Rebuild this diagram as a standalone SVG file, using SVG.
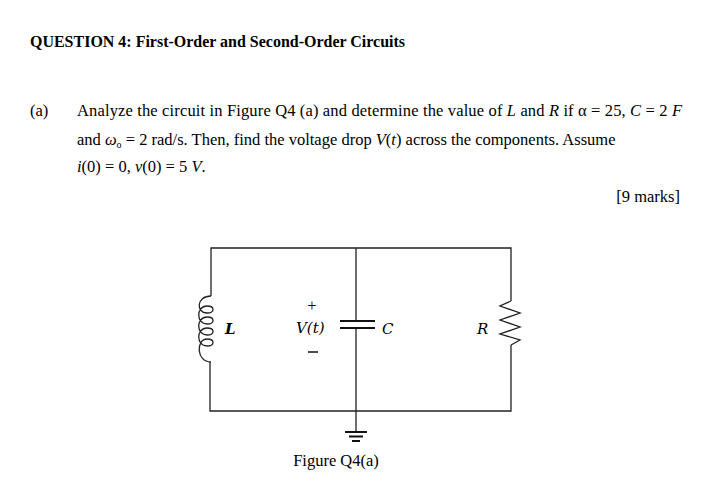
<svg xmlns="http://www.w3.org/2000/svg" width="720" height="493" viewBox="0 0 720 493">
<style>
text{font-family:"Liberation Serif",serif;font-size:16.5px;fill:#000}
.w{stroke:#222;stroke-width:1.3;fill:none}
.m{font-family:"DejaVu Serif","Liberation Serif",serif;font-style:italic;font-size:15px}
</style>
<rect width="720" height="493" fill="#fff"/>
<text x="30" y="47" font-weight="bold" font-size="16" textLength="375" lengthAdjust="spacingAndGlyphs">QUESTION 4: First-Order and Second-Order Circuits</text>
<text x="30" y="116">(a)</text>
<text x="77" y="116" textLength="605">Analyze the circuit in Figure Q4 (a) and determine the value of <tspan font-style="italic">L</tspan> and <tspan font-style="italic">R</tspan> if  α = 25, <tspan font-style="italic">C</tspan> = 2 <tspan font-style="italic">F</tspan></text>
<text x="77" y="145">and <tspan font-style="italic">ω</tspan><tspan font-size="10" dy="3">o</tspan><tspan dy="-3"> = 2 rad/s. Then, find the voltage drop </tspan><tspan font-style="italic">V</tspan>(<tspan font-style="italic">t</tspan>) across the components. Assume</text>
<text x="77" y="172"><tspan font-style="italic">i</tspan>(0) = 0, <tspan font-style="italic">v</tspan>(0) = 5 <tspan font-style="italic">V</tspan>.</text>
<text x="680" y="202" text-anchor="end">[9 marks]</text>
<g id="connectors">
<path class="w" d="M211,296 V248 H511 V301 M511,345 V411 H210 V362 M356,248 V321 M356,328 V432"/>
</g>
<g id="inductor">
<path class="w" d="M211,296 C196,296 196,313 207,313 C215,313 215,306 207,306 C196,306 196,324 207,324 C215,324 215,317 207,317 C196,317 196,335 207,335 C215,335 215,328 207,328 C196,328 196,346 207,346 C215,346 215,339 207,339 C196,339 196,362 211,362"/>
<text class="m" x="225" y="334" font-weight="bold">L</text>
</g>
<g id="capacitor">
<path stroke="#111" stroke-width="2.2" d="M340,321 H375 M340,328 H375"/>
<text x="312" y="311" font-family="DejaVu Sans" font-size="12" text-anchor="middle">+</text>
<text class="m" x="296" y="333" font-style="normal"><tspan font-style="italic">V</tspan>(<tspan font-style="italic">t</tspan>)</text>
<path stroke="#111" stroke-width="1.5" d="M308,352 H318"/>
<text class="m" x="382" y="334">C</text>
</g>
<g id="resistor">
<path class="w" d="M511,301 L500,306 L520,313 L500,320 L520,327 L500,334 L520,340 L511,345"/>
<text class="m" x="477" y="334">R</text>
</g>
<g id="ground">
<path stroke="#111" d="M345,432 H367 M349,436.5 H363 M352,441 H360" stroke-width="2"/>
</g>
<text x="336" y="466" text-anchor="middle">Figure Q4(a)</text>
</svg>
